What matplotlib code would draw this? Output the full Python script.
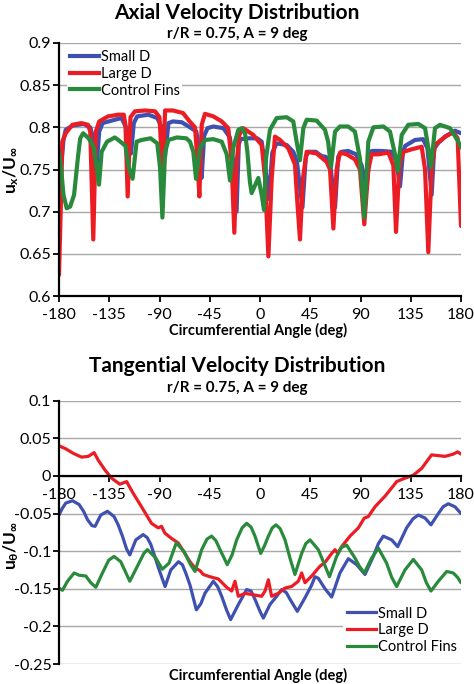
import matplotlib
matplotlib.use("Agg")
import matplotlib.pyplot as plt
from matplotlib.lines import Line2D

plt.rcParams['font.family'] = ['Lato', 'DejaVu Sans']
plt.rcParams['mathtext.fontset'] = 'custom'
plt.rcParams['mathtext.rm'] = 'Lato:bold'
plt.rcParams['mathtext.bf'] = 'Lato:bold'
plt.rcParams['mathtext.it'] = 'Lato:bold'
plt.rcParams['mathtext.default'] = 'bf'

# ---------------- data: axial velocity ----------------
ax_small_deg = [-180, -178, -176, -174, -168, -158, -152, -149, -146.3, -144, -141, -130, -124, -120,
                -117.5, -115.5, -113, -110, -100, -92, -88, -85, -82, -78, -70, -62.7, -57, -54, -52.3,
                -50, -47, -41.8, -32.8, -27, -24, -21, -19, -17.5, -10, -2.5, 1.5, 5, 8, 11, 14.9, 24,
                29.8, 33, 38, 41, 43.3, 50, 55, 59, 63, 67.2, 70, 73, 79, 86, 91, 95.5, 98, 100, 109,
                118, 122, 125.4, 128, 130, 138.8, 146, 150, 153.7, 156, 160, 167, 174.6, 180]
ax_small_val = [0.760, 0.755, 0.785, 0.797, 0.802, 0.804, 0.800, 0.785, 0.754, 0.795, 0.805, 0.809,
                0.811, 0.800, 0.780, 0.769, 0.805, 0.813, 0.815, 0.811, 0.800, 0.765, 0.805, 0.807,
                0.806, 0.800, 0.795, 0.770, 0.740, 0.790, 0.799, 0.801, 0.799, 0.788, 0.760, 0.700,
                0.780, 0.786, 0.787, 0.787, 0.783, 0.750, 0.715, 0.770, 0.781, 0.779, 0.771, 0.760,
                0.705, 0.765, 0.771, 0.771, 0.766, 0.765, 0.755, 0.705, 0.765, 0.771, 0.772, 0.768,
                0.755, 0.728, 0.765, 0.772, 0.772, 0.771, 0.760, 0.730, 0.770, 0.778, 0.785, 0.786,
                0.775, 0.720, 0.775, 0.782, 0.790, 0.796, 0.793]

ax_large_deg = [-180, -178.5, -177, -174, -168, -160, -154, -152, -149.3, -147, -144, -136, -127, -122,
                -120.5, -118.5, -116, -112, -103, -94, -90, -87.1, -85, -78, -69, -63, -58.2, -56,
                -54.3, -52.2, -49.3, -41.8, -34.3, -28.4, -25.5, -23, -20.8, -18.5, -15, -6, 1.5, 4.5,
                7.5, 10.5, 13.4, 18, 25.4, 31.3, 33.5, 35.8, 38.5, 41.8, 50.7, 59.7, 62.7, 65.7, 68.6,
                71.6, 77.6, 85, 89.5, 93.4, 97, 100, 106, 115, 119.4, 121.8, 124.8, 128.4, 136, 144.8,
                147.8, 150.7, 153.7, 156.7, 165.7, 173.1, 177, 180]
ax_large_val = [0.625, 0.700, 0.783, 0.793, 0.803, 0.805, 0.803, 0.795, 0.667, 0.795, 0.807, 0.813,
                0.815, 0.815, 0.803, 0.718, 0.812, 0.819, 0.820, 0.819, 0.812, 0.742, 0.820, 0.820,
                0.817, 0.807, 0.800, 0.760, 0.718, 0.803, 0.816, 0.813, 0.807, 0.799, 0.760, 0.675,
                0.760, 0.791, 0.799, 0.791, 0.779, 0.740, 0.647, 0.740, 0.789, 0.785, 0.775, 0.756,
                0.710, 0.667, 0.740, 0.771, 0.769, 0.759, 0.750, 0.680, 0.750, 0.770, 0.768, 0.762,
                0.750, 0.685, 0.750, 0.768, 0.768, 0.770, 0.755, 0.676, 0.755, 0.771, 0.774, 0.777,
                0.750, 0.652, 0.750, 0.779, 0.789, 0.794, 0.787, 0.683]

ax_fins_deg = [-180, -178, -176, -173.1, -170, -166.5, -163, -161, -158.4, -153.5, -149, -146, -144.2,
               -141.8, -137, -130, -125, -120.5, -117.5, -114.1, -110.5, -106, -98, -92, -89.5, -87.4,
               -85, -82, -74.5, -66, -62.7, -59.7, -57.3, -53.7, -49.3, -41.8, -34.3, -29.8, -26.9,
               -23.9, -19.4, -16.4, -13.4, -11.3, -9, -7.5, -4.5, -1.5, 1.5, 3.6, 5.4, 8.9, 14.9,
               23.9, 29.8, 32.8, 35.8, 38.8, 41.8, 50.7, 58.2, 61, 63.6, 67.2, 71.6, 79, 85, 89.5,
               93.4, 97, 101.5, 110.5, 116.4, 120.9, 123.3, 126.9, 132.8, 141.8, 147.8, 150.7, 153.1,
               156.7, 161.2, 170.2, 177.6, 180]
ax_fins_val = [0.771, 0.750, 0.720, 0.704, 0.706, 0.720, 0.765, 0.787, 0.793, 0.787, 0.777, 0.750,
               0.732, 0.771, 0.783, 0.788, 0.783, 0.778, 0.752, 0.739, 0.783, 0.785, 0.787, 0.781,
               0.752, 0.693, 0.771, 0.785, 0.788, 0.787, 0.783, 0.771, 0.739, 0.775, 0.785, 0.786,
               0.783, 0.768, 0.737, 0.776, 0.797, 0.799, 0.793, 0.771, 0.735, 0.722, 0.731, 0.740,
               0.720, 0.702, 0.763, 0.797, 0.811, 0.812, 0.807, 0.783, 0.761, 0.799, 0.809, 0.808,
               0.797, 0.783, 0.753, 0.795, 0.801, 0.801, 0.795, 0.763, 0.693, 0.783, 0.800, 0.801,
               0.795, 0.768, 0.748, 0.791, 0.803, 0.804, 0.799, 0.776, 0.753, 0.799, 0.803, 0.799,
               0.783, 0.776]

# ---------------- data: tangential velocity ----------------
tg_small_deg = [-180, -177, -173.9, -167.9, -162, -158, -154.5, -150.5, -147.7, -142.6, -136.6, -130.7,
                -127, -123.2, -119.5, -116.6, -111.2, -104.7, -101, -97.8, -94, -90.3, -85, -79.9,
                -73, -69.5, -66.5, -62.7, -57, -53, -49.3, -41.8, -38, -34.3, -30, -26.3, -19.4, -12,
                -8, -4.5, 0, 3, 8.9, 14.9, 19.4, 23.5, 26.9, 33.4, 40.3, 46.3, 49.2, 52.2, 58.2,
                64.2, 71.6, 79.1, 86.6, 94, 101.5, 106, 110.4, 117.9, 123.3, 131.3, 137, 141.8, 147.8,
                153.1, 159.7, 164, 168.6, 174.6, 180]
tg_small_val = [-0.052, -0.043, -0.036, -0.033, -0.038, -0.047, -0.058, -0.066, -0.067, -0.052,
                -0.047, -0.054, -0.065, -0.080, -0.097, -0.105, -0.085, -0.078, -0.082, -0.091,
                -0.108, -0.125, -0.147, -0.125, -0.114, -0.118, -0.129, -0.145, -0.178, -0.170,
                -0.156, -0.140, -0.147, -0.160, -0.178, -0.191, -0.171, -0.151, -0.153, -0.164,
                -0.180, -0.189, -0.171, -0.160, -0.151, -0.155, -0.164, -0.180, -0.162, -0.145,
                -0.134, -0.136, -0.150, -0.161, -0.129, -0.110, -0.118, -0.131, -0.107, -0.090,
                -0.080, -0.085, -0.094, -0.069, -0.057, -0.052, -0.056, -0.065, -0.050, -0.041,
                -0.037, -0.041, -0.050]

tg_large_deg = [-180, -178.4, -173.9, -167.2, -159.8, -153.8, -148.5, -144.9, -138.9, -132.9, -125.5,
                -119.5, -113.6, -106.1, -97.2, -91.2, -88.2, -85.2, -79.3, -73.3, -67.3, -62.7, -58.4,
                -53.7, -50.8, -44.8, -37.3, -29.9, -25.4, -22.4, -19.4, -13.4, -6, 1.5, 4.5, 7.5,
                10.4, 16.4, 22.4, 28.3, 34.3, 37.3, 40.3, 46.3, 53.7, 58.2, 64.2, 67.2, 69.5, 73.1,
                80.6, 88.1, 93.4, 97, 103, 111.9, 117.9, 122.4, 129.8, 137.3, 144.8, 149.2, 153.7,
                159.7, 165.7, 173.1, 177, 180]
tg_large_val = [0.040, 0.039, 0.036, 0.030, 0.025, 0.026, 0.031, 0.021, 0.008, -0.003, -0.011,
                -0.0075, -0.023, -0.041, -0.063, -0.069, -0.067, -0.076, -0.083, -0.089, -0.103,
                -0.114, -0.122, -0.126, -0.131, -0.134, -0.137, -0.148, -0.153, -0.140, -0.160,
                -0.156, -0.158, -0.160, -0.153, -0.138, -0.160, -0.156, -0.149, -0.147, -0.140,
                -0.129, -0.142, -0.133, -0.120, -0.115, -0.103, -0.098, -0.103, -0.094, -0.080,
                -0.069, -0.056, -0.054, -0.041, -0.027, -0.016, -0.0075, -0.003, 0.001, 0.010,
                0.019, 0.028, 0.027, 0.026, 0.029, 0.032, 0.029]

tg_fins_deg = [-180, -176.9, -172.4, -166.4, -162, -156, -151.5, -147, -141.1, -135.5, -130.7, -124.7,
               -116.6, -109.8, -104, -100.8, -93.4, -87.5, -81.5, -75, -68.2, -62.2, -58.2, -52.2,
               -47.5, -43.3, -39.5, -35.8, -29.3, -25, -20.9, -16, -12, -8, -4.5, 0.6, 4, 7.5, 11,
               14.3, 18, 22.4, 27, 31.3, 37.3, 41, 44.8, 52.2, 57, 62.2, 68.6, 73, 77.6, 85, 89,
               93.4, 100, 106, 113.4, 118, 122.4, 129.8, 137.3, 144.8, 149, 153.1, 159.7, 167.2,
               173.1, 177, 180]
tg_fins_val = [-0.149, -0.152, -0.140, -0.129, -0.132, -0.133, -0.142, -0.148, -0.129, -0.112,
               -0.107, -0.114, -0.140, -0.120, -0.103, -0.098, -0.109, -0.124, -0.116, -0.089,
               -0.100, -0.118, -0.127, -0.098, -0.084, -0.080, -0.086, -0.098, -0.118, -0.105,
               -0.085, -0.069, -0.063, -0.068, -0.080, -0.103, -0.093, -0.080, -0.069, -0.065,
               -0.070, -0.085, -0.110, -0.131, -0.103, -0.090, -0.085, -0.098, -0.115, -0.134,
               -0.107, -0.095, -0.092, -0.109, -0.120, -0.129, -0.109, -0.096, -0.116, -0.135,
               -0.147, -0.125, -0.111, -0.125, -0.142, -0.153, -0.140, -0.127, -0.129, -0.135,
               -0.142]

labels = ['Small D', 'Large D', 'Control Fins']
colors = ['#3f51b0', '#ec1c24', '#2a8a3c']
xticks = [-180, -135, -90, -45, 0, 45, 90, 135, 180]
top_yticks = [0.6, 0.65, 0.7, 0.75, 0.8, 0.85, 0.9]
bot_yticks = [-0.25, -0.2, -0.15, -0.1, -0.05, 0, 0.05, 0.1]

W, H = 474, 684
fig = plt.figure(figsize=(W / 100, H / 100), dpi=100)

def fx(px):
    return px / W

def fy(py):
    return 1 - py / H

grid_c = '#a8a8a8'
TICK_FS = 11.5

# ---------------- top axes ----------------
ax1 = fig.add_axes([fx(59), fy(296), fx(402), 253 / H])
for d, v, c in zip([ax_small_deg, ax_large_deg, ax_fins_deg],
                   [ax_small_val, ax_large_val, ax_fins_val], colors):
    ax1.plot(d, v, color=c, lw=3.0, solid_joinstyle='round', solid_capstyle='round')
ax1.set_xlim(-180, 180)
ax1.set_ylim(0.6, 0.9)
ax1.set_xticks(xticks)
ax1.set_xticklabels([str(t) for t in xticks])
ax1.set_yticks(top_yticks)
ax1.set_yticklabels(['0.6', '0.65', '0.7', '0.75', '0.8', '0.85', '0.9'])
ax1.yaxis.grid(True, color=grid_c, lw=1.0)
ax1.set_axisbelow(True)
for s in ['top', 'right']:
    ax1.spines[s].set_visible(False)
ax1.spines['left'].set_linewidth(1.6)
ax1.spines['bottom'].set_linewidth(1.6)
ax1.tick_params(axis='both', direction='out', length=4.5, width=1.3, labelsize=TICK_FS, colors='black')
ax1.tick_params(axis='x', pad=4)
ax1.tick_params(axis='y', pad=1)
for sp in ax1.spines.values():
    sp.set_zorder(5)

handles = [Line2D([0], [0], color=c, lw=3.0) for c in colors]
leg1 = ax1.legend(handles, labels, loc='upper left', bbox_to_anchor=(0.02, 0.985),
                  frameon=True, fancybox=False, framealpha=1, edgecolor='white',
                  fontsize=10.5, handlelength=2.0, handletextpad=0.1, labelspacing=0.2,
                  borderpad=0.2, borderaxespad=0)
leg1.get_frame().set_linewidth(0)

# ---------------- bottom axes ----------------
ax2 = fig.add_axes([fx(59), fy(664), fx(402), 263.3 / H])
for d, v, c in zip([tg_small_deg, tg_large_deg, tg_fins_deg],
                   [tg_small_val, tg_large_val, tg_fins_val], colors):
    ax2.plot(d, v, color=c, lw=2.3, solid_joinstyle='round', solid_capstyle='round')
ax2.set_xlim(-180, 180)
ax2.set_ylim(-0.25, 0.1)
ax2.set_xticks(xticks)
ax2.set_xticklabels([str(t) for t in xticks])
ax2.set_yticks(bot_yticks)
ax2.set_yticklabels(['-0.25', '-0.2', '-0.15', '-0.1', '-0.05', '0', '0.05', '0.1'])
ax2.yaxis.grid(True, color=grid_c, lw=1.0)
ax2.set_axisbelow(True)
for s in ['top', 'right']:
    ax2.spines[s].set_visible(False)
ax2.spines['bottom'].set_position(('data', 0))
ax2.spines['left'].set_linewidth(1.6)
ax2.spines['bottom'].set_linewidth(1.6)
ax2.tick_params(axis='both', direction='out', length=4.5, width=1.3, labelsize=TICK_FS, colors='black')
ax2.tick_params(axis='x', pad=4)
ax2.tick_params(axis='y', pad=1)
for sp in ax2.spines.values():
    sp.set_zorder(5)

handles2 = [Line2D([0], [0], color=c, lw=2.3) for c in colors]
leg2 = ax2.legend(handles2, labels, loc='lower right', bbox_to_anchor=(1.0, 0.02),
                  frameon=True, fancybox=False, framealpha=1, edgecolor='white',
                  fontsize=10.5, handlelength=2.0, handletextpad=0.1, labelspacing=0.2,
                  borderpad=0.3, borderaxespad=0)
leg2.get_frame().set_linewidth(0)

# ---------------- titles and labels ----------------
fig.text(fx(237), fy(13), 'Axial Velocity Distribution', ha='center', va='center',
         fontsize=15, fontweight='bold')
fig.text(fx(237), fy(34), 'r/R = 0.75, A = 9 deg', ha='center', va='center',
         fontsize=11, fontweight='bold')
fig.text(fx(258), fy(330), 'Circumferential Angle (deg)', ha='center', va='center',
         fontsize=10.5, fontweight='bold')
fig.text(fx(11), fy(170), r'u$_{\mathbf{x}}$/U$_{\infty}$', ha='center', va='center',
         rotation=90, fontsize=12.5, fontweight='bold')

fig.text(fx(237), fy(366), 'Tangential Velocity Distribution', ha='center', va='center',
         fontsize=15, fontweight='bold')
fig.text(fx(237), fy(388), 'r/R = 0.75, A = 9 deg', ha='center', va='center',
         fontsize=11, fontweight='bold')
fig.text(fx(258), fy(675), 'Circumferential Angle (deg)', ha='center', va='center',
         fontsize=10.5, fontweight='bold')
fig.text(fx(11), fy(545), r'u$_{\theta}$/U$_{\infty}$', ha='center', va='center',
         rotation=90, fontsize=12.5, fontweight='bold')

fig.savefig('out.png', dpi=100, facecolor='white')
